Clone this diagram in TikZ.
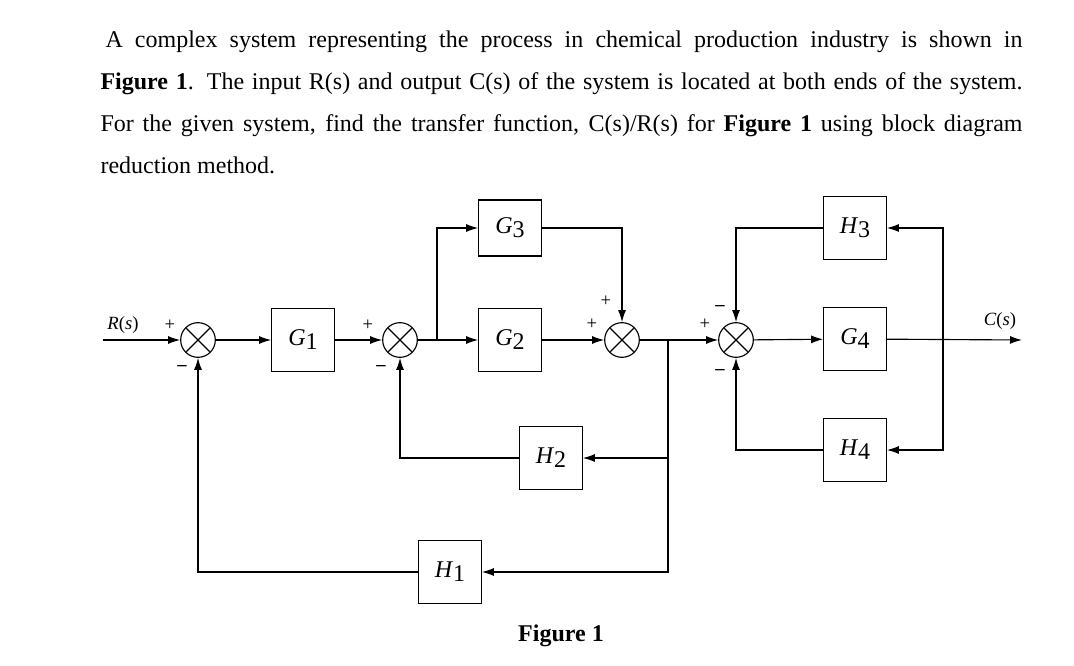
\documentclass[tikz,border=0pt]{standalone}
\usepackage{fontspec}
\setmainfont{Liberation Serif}
\usetikzlibrary{arrows.meta}
\newcommand{\blk}[2]{\textit{#1}\raisebox{-3pt}{#2}}
\begin{document}
\begin{tikzpicture}[x=0.75pt,y=-0.75pt,
  line width=0.85pt,
  >={Latex[length=9pt,width=6pt]},
  box/.style={draw,minimum width=47pt,minimum height=47pt,inner sep=0pt,font=\fontsize{18}{18}\selectfont},
  sum/.style={draw,circle,minimum size=26pt,inner sep=0pt,path picture={\draw (path picture bounding box.north west)++(4.2pt,-4.2pt) -- ([xshift=-4.2pt,yshift=4.2pt]path picture bounding box.south east);
     \draw ([xshift=4.2pt,yshift=4.2pt]path picture bounding box.south west) -- ([xshift=-4.2pt,yshift=-4.2pt]path picture bounding box.north east);}},
  sg/.style={font=\fontsize{14}{14}\selectfont,inner sep=1pt},
  txt/.style={anchor=base west,inner sep=0pt,font=\fontsize{18}{18}\selectfont}]
\fill[white] (0,0) rectangle (1074,666);
\node[txt] (l1) at (105,48) {\makebox[917\dimexpr0.75pt][s]{A complex system representing the process in chemical production industry is shown in}};
\node[txt] (l2) at (100,90) {\makebox[922\dimexpr0.75pt][s]{\textbf{Figure 1}. The input R(s) and output C(s) of the system is located at both ends of the system.}};
\node[txt] (l3) at (100,132) {\makebox[922\dimexpr0.75pt][s]{For the given system, find the transfer function, C(s)/R(s) for \textbf{Figure 1} using block diagram}};
\node[txt] (l4) at (100,174) {reduction method.};

\coordinate (in) at (103,340);
\node[sum] (s1) at (198,340) {};
\node[box] (g1) at (303,340) {\blk{G}{1}};
\node[sum] (s2) at (400,340) {};
\coordinate (b1) at (437,340);
\node[box] (g2) at (510,340) {\blk{G}{2}};
\node[box,minimum height=42pt] (g3) at (510,228) {\blk{G}{3}};
\node[sum] (s3) at (622,340) {};
\coordinate (b2) at (668,340);
\node[sum] (s4) at (736,340) {};
\node[box] (g4) at (855,339) {\blk{G}{4}};
\node[box] (h3) at (855,228) {\blk{H}{3}};
\node[box] (h4) at (855,450) {\blk{H}{4}};
\node[box] (h2) at (551,458) {\blk{H}{2}};
\node[box] (h1) at (450,572) {\blk{H}{1}};
\coordinate (b3) at (943,340);
\coordinate (out) at (1022,340);

\draw[->] (in) -- (s1);
\draw[->] (s1) -- (g1);
\draw[->] (g1) -- (s2);
\draw[->] (s2) -- (g2);
\draw[->] (b1) |- (g3);
\draw[->] (g2) -- (s3);
\draw[->] (g3) -| (s3);
\draw[->] (s3) -- (s4);
\draw[->] (s4) -- (g4);
\draw[->] (g4) -- (out);
\draw[->] (b3) |- (h3);
\draw[->] (b3) |- (h4);
\draw[->] (h3) -| (s4);
\draw[->] (h4) -| (s4);
\draw[->] (b2) |- (h1);
\draw[->] (b2 |- h2) -- (h2);
\draw[->] (h2) -| (s2);
\draw[->] (h1) -| (s1);

\node[sg] (rs) at (123,325) {\textit{R}(\textit{s})};
\node[sg] (cs) at (1000,321) {\textit{C}(\textit{s})};
\node[sg] (p1) at (170,325) {+};
\node[sg] (m1) at (182,368) {\textbf{–}};
\node[sg] (p2) at (368,325) {+};
\node[sg] (m2) at (381,368) {\textbf{–}};
\node[sg] (p3) at (592,324) {+};
\node[sg] (p3b) at (606,301) {+};
\node[sg] (p4) at (705,324) {+};
\node[sg] (m4a) at (720,308) {\textbf{–}};
\node[sg] (m4b) at (720,372) {\textbf{–}};
\node[font=\bfseries\fontsize{18}{18}\selectfont] (fig) at (561,636) {Figure 1};
\end{tikzpicture}
\end{document}
